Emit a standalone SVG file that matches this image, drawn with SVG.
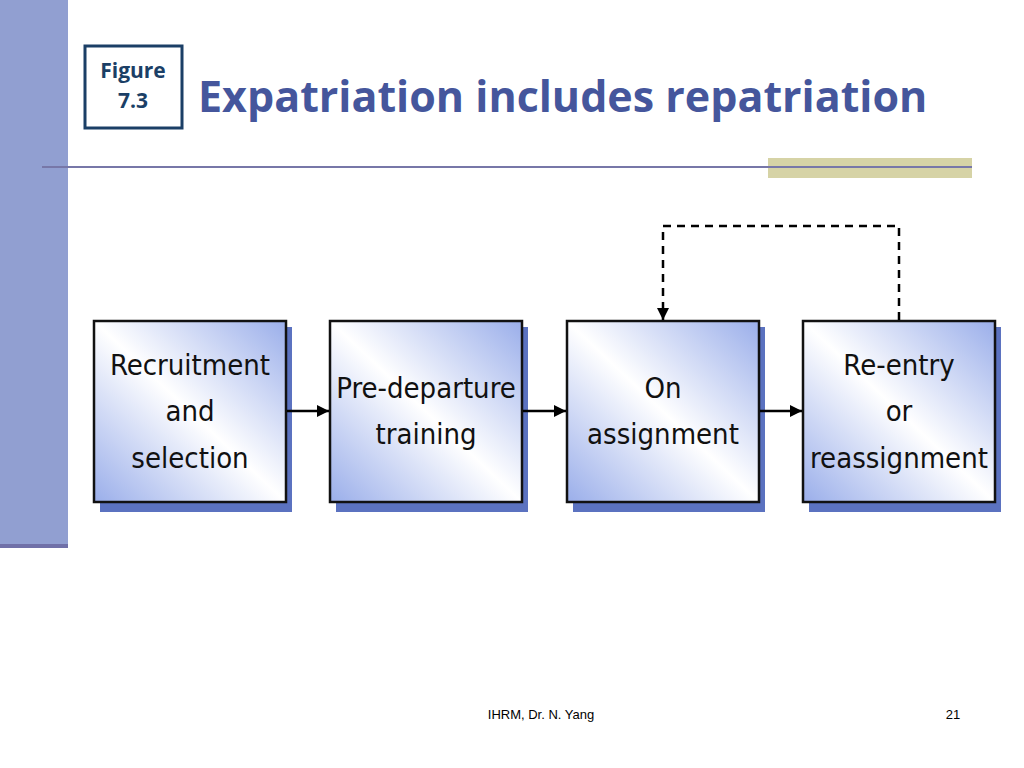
<svg xmlns="http://www.w3.org/2000/svg" width="1024" height="768" viewBox="0 0 1024 768">
<style>
.bx{stroke:#111;stroke-width:2.5;fill:url(#g)}
.sh{fill:#5b72c0}
.lb{font-family:"DejaVu Sans Condensed","Liberation Sans Narrow",sans-serif;font-stretch:condensed;font-size:29px;fill:#111;text-anchor:middle}
.cn{stroke:#000;stroke-width:2.5;fill:none}
</style>
<defs>
<linearGradient id="g" x1="0" y1="1" x2="1" y2="0">
<stop offset="0" stop-color="#9aaeea"/><stop offset="0.5" stop-color="#ffffff"/><stop offset="1" stop-color="#9aaeea"/>
</linearGradient>
<marker id="a" viewBox="0 0 10 10" refX="10" refY="5" markerWidth="5" markerHeight="5" orient="auto" markerUnits="strokeWidth"><path d="M0,0L10,5L0,10z" fill="#000"/></marker>
</defs>
<rect width="1024" height="768" fill="#fff"/>
<rect x="0" y="0" width="68" height="548" fill="#919fd1"/>
<rect x="0" y="544" width="68" height="4" fill="#7070a8"/>
<line x1="42" y1="167" x2="972" y2="167" stroke="#7777a8" stroke-width="2"/>
<rect x="768" y="158" width="204" height="20" fill="#d6d3a6"/>
<line x1="768" y1="167" x2="972" y2="167" stroke="#7777a8" stroke-width="2"/>
<rect x="85" y="46" width="97" height="82" fill="#fff" stroke="#1b3f66" stroke-width="3"/>
<text x="133" y="78" font-family="Open Sans,sans-serif" font-weight="bold" font-size="21" fill="#1b3f66" text-anchor="middle">Figure</text>
<text x="133" y="108" font-family="Open Sans,sans-serif" font-weight="bold" font-size="21" fill="#1b3f66" text-anchor="middle">7.3</text>
<text x="198" y="112" font-family="Open Sans,sans-serif" font-weight="bold" font-size="43" fill="#45569c">Expatriation includes repatriation</text>
<g id="n1"><rect class="sh" x="100" y="327" width="192" height="185"/><rect class="bx" x="94" y="321" width="192" height="181"/>
<text class="lb" x="190" y="375">Recruitment</text><text class="lb" x="190" y="421">and</text><text class="lb" x="190" y="468">selection</text></g>
<g id="n2"><rect class="sh" x="336" y="327" width="192" height="185"/><rect class="bx" x="330" y="321" width="192" height="181"/>
<text class="lb" x="426" y="398">Pre-departure</text><text class="lb" x="426" y="444">training</text></g>
<g id="n3"><rect class="sh" x="573" y="327" width="192" height="185"/><rect class="bx" x="567" y="321" width="192" height="181"/>
<text class="lb" x="663" y="398">On</text><text class="lb" x="663" y="444">assignment</text></g>
<g id="n4"><rect class="sh" x="809" y="327" width="192" height="185"/><rect class="bx" x="803" y="321" width="192" height="181"/>
<text class="lb" x="899" y="375">Re-entry</text><text class="lb" x="899" y="421">or</text><text class="lb" x="899" y="468">reassignment</text></g>
<g id="connectors">
<line class="cn" x1="287" y1="411" x2="329" y2="411" marker-end="url(#a)"/>
<line class="cn" x1="523" y1="411" x2="566" y2="411" marker-end="url(#a)"/>
<line class="cn" x1="760" y1="411" x2="802" y2="411" marker-end="url(#a)"/>
<path class="cn" d="M899,320V226H663V320" stroke-width="2" stroke-dasharray="8,6" marker-end="url(#a)"/>
</g>
<text x="541" y="719" font-family="Liberation Sans,sans-serif" font-size="13" text-anchor="middle">IHRM, Dr. N. Yang</text>
<text x="953" y="719" font-family="Liberation Sans,sans-serif" font-size="13" text-anchor="middle">21</text>
</svg>
